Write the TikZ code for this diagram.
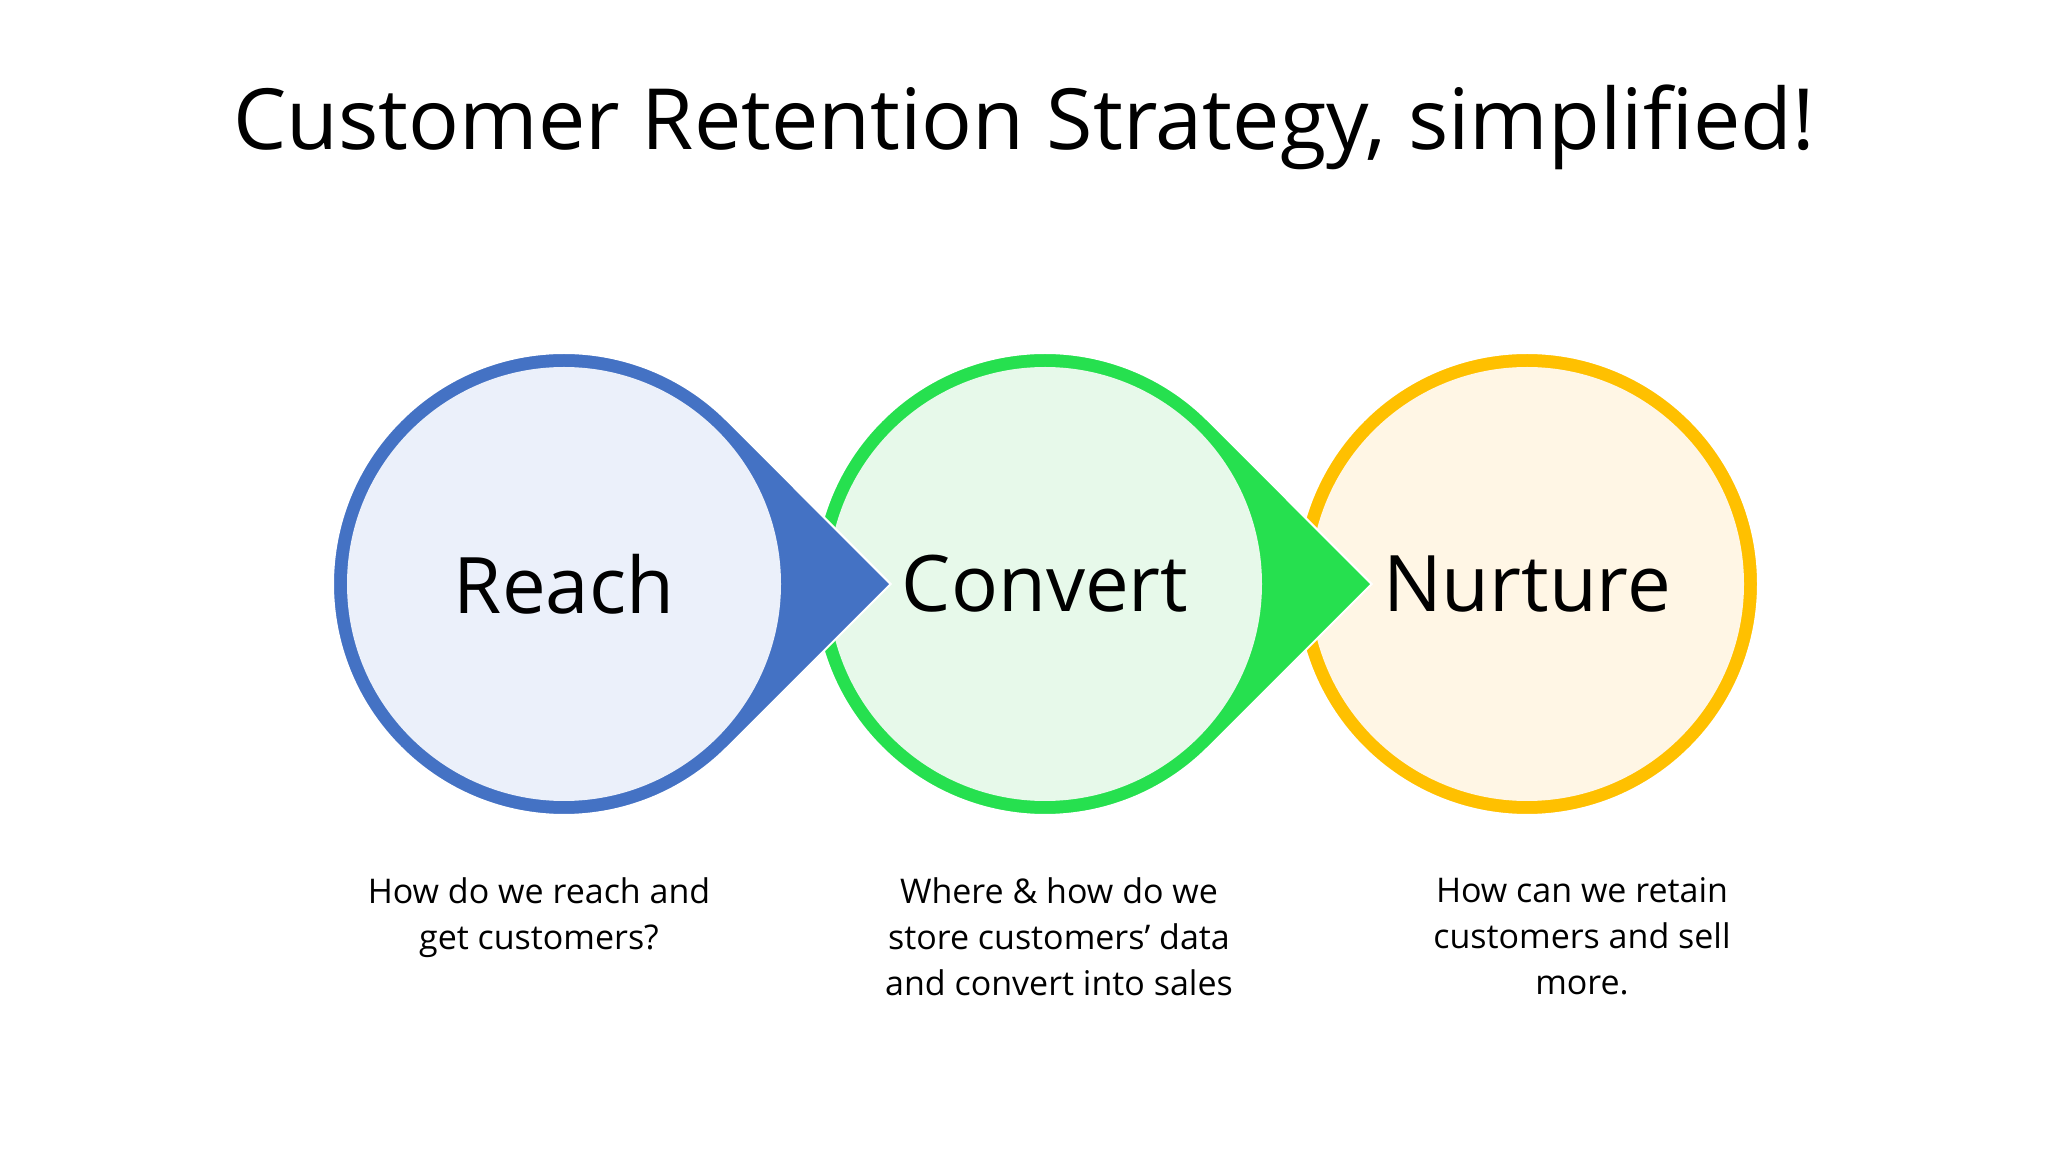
\documentclass[tikz,border=0pt]{standalone}
\usepackage{fontspec}
\setmainfont{Open Sans}

\definecolor{reachblue}{HTML}{4472C4}
\definecolor{reachlight}{HTML}{EBF0FA}
\definecolor{convgreen}{HTML}{26E04F}
\definecolor{convlight}{HTML}{E7F9EA}
\definecolor{nurtyellow}{HTML}{FFC000}
\definecolor{nurtlight}{HTML}{FFF6E5}

\tikzset{
  stage/.style={circle, inner sep=0pt, minimum size=434pt,
    font=\fontsize{78}{94}\selectfont},
  drop/.style={draw=white, line width=2pt},
  desc/.style={align=center, anchor=north, inner sep=0pt,
    font=\fontsize{34}{46}\selectfont},
}

\begin{document}
\begin{tikzpicture}[x=1pt, y=1pt]
    \useasboundingbox[fill=white] (0,0) rectangle (2048,1152);

    \node[anchor=base, font=\fontsize{84.5}{100}\selectfont] (title) at (1024,1002)
        {Customer Retention Strategy, simplified!};

    % last one first, the tips lie on top of the next ring
    \path[drop, fill=nurtyellow] (1527,568) circle (231);
    \node[stage, fill=nurtlight] (nurture) at (1527,568) {Nurture};

    \path[drop, fill=convgreen] (1045,568) ++(45:231)
        arc[start angle=45, end angle=315, radius=231] -- ++(163.3,163.3) -- cycle;
    \node[stage, fill=convlight] (convert) at (1045,568) {Convert};

    \path[drop, fill=reachblue] (564,568) ++(45:231)
        arc[start angle=45, end angle=315, radius=231] -- ++(163.3,163.3) -- cycle;
    \node[stage, fill=reachlight] (reach) at (564,568) {Reach};

    \node[desc] (reachq) at (539,275) {How do we reach and\\get customers?};
    \node[desc] (convertq) at (1059,275) {Where \& how do we\\store customers’ data\\and convert into sales};
    \node[desc] (nurtureq) at (1582,275) {How can we retain\\customers and sell\\more.};
\end{tikzpicture}
\end{document}
